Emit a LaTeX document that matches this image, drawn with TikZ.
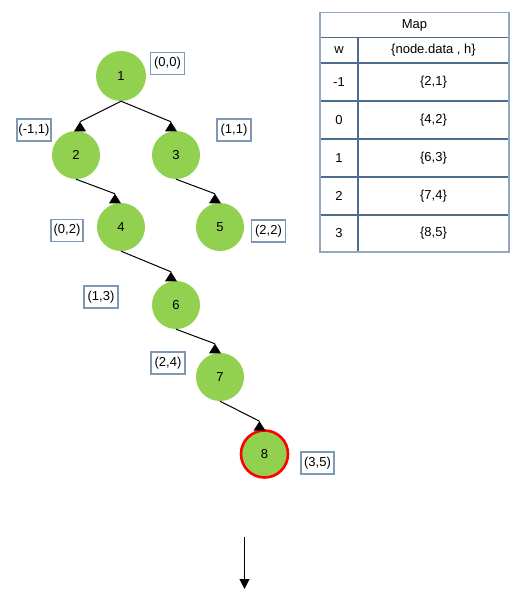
\documentclass[tikz,border=0pt]{standalone}
\usepackage{fontspec}
\setmainfont{Liberation Sans}
\usetikzlibrary{calc,arrows.meta}
\definecolor{leaf}{HTML}{92D050}
\definecolor{boxline}{HTML}{7F98B5}
\definecolor{tabout}{HTML}{94A8C2}
\definecolor{tabin}{HTML}{4E6C8C}
\newcommand\uptri[1]{\fill (#1) -- ++(6,9.5) -- ++(-12,0) -- cycle;}
\begin{document}
\begin{tikzpicture}[x=1pt,y=-1pt,
  tnode/.style={circle,fill=leaf,minimum size=48pt,inner sep=0pt,font=\fontsize{13}{15}\selectfont},
  lbl/.style={draw=boxline,line width=1.3pt,fill=white,minimum width=34pt,minimum height=22pt,inner sep=1pt,font=\fontsize{13}{15}\selectfont},
  edge/.style={draw=black,line width=1pt},
  cell/.style={font=\fontsize{13}{15}\selectfont,inner sep=0pt}]
\useasboundingbox (0,0) rectangle (528,610);
% tree nodes
\node[tnode,minimum size=50pt] (n1) at (121,76) {1};
\node[tnode] (n2) at (76,155) {2};
\node[tnode] (n3) at (176,155) {3};
\node[tnode] (n4) at (121,227) {4};
\node[tnode] (n5) at (220,227) {5};
\node[tnode] (n6) at (176,305) {6};
\node[tnode] (n7) at (220,377) {7};
\node[tnode,draw=red,line width=2.6pt,minimum size=47pt] (n8) at (264.5,454) {8};
% labels
\node[lbl] (l1) at (167.5,63.5) {(0,0)};
\node[lbl] (l2) at (34,130) {(-1,1)};
\node[lbl] (l3) at (234,130) {(1,1)};
\node[lbl,minimum width=32pt] (l4) at (67,230.5) {(0,2)};
\node[lbl] (l5) at (268.5,231) {(2,2)};
\node[lbl] (l6) at (101,297) {(1,3)};
\node[lbl] (l7) at (168,363) {(2,4)};
\node[lbl,minimum width=33pt] (l8) at (317.5,463) {(3,5)};
% edges
\coordinate (t2) at ($(n2.north)+(4,-9)$);
\coordinate (t3) at ($(n3.north)+(-5,-9)$);
\coordinate (t4) at ($(n4.north)+(-6,-9)$);
\coordinate (t5) at ($(n5.north)+(-5,-9)$);
\coordinate (t6) at ($(n6.north)+(-5,-9)$);
\coordinate (t7) at ($(n7.north)+(-5,-9)$);
\coordinate (t8) at ($(n8.north)+(-5,-8)$);
\draw[edge] (n1.south) -- (t2); \uptri{t2}
\draw[edge] (n1.south) -- (t3); \uptri{t3}
\draw[edge] (n2.south) -- (t4); \uptri{t4}
\draw[edge] (n3.south) -- (t5); \uptri{t5}
\draw[edge] (n4.south) -- (t6); \uptri{t6}
\draw[edge] (n6.south) -- (t7); \uptri{t7}
\draw[edge] (n7.south) -- (t8); \uptri{t8}
% bottom arrow
\coordinate (a0) at (244.5,537);
\coordinate (a1) at (244.5,589);
\draw[line width=1pt,-{Triangle[length=10pt,width=10pt]}] (a0) -- (a1);
% table
\draw[tabin,line width=1.5pt] (320,37.5) -- (509,37.5);
\foreach \yy in {63,101,139,177,215} \draw[tabin,line width=1.5pt] (320,\yy) -- (509,\yy);
\draw[tabin,line width=1.5pt] (358,37.5) -- (358,252);
\draw[tabout,line width=1.3pt] (320,12.5) rectangle (509,252);
\node[cell] (tt) at (414.5,25) {Map};
\node[cell] (h1) at (339,50) {w};
\node[cell] (h2) at (433.5,50) {\{node.data , h\}};
\node[cell] (k1) at (339,82) {-1};
\node[cell] (v1) at (433.5,82) {\{2,1\}};
\node[cell] (k2) at (339,120) {0};
\node[cell] (v2) at (433.5,120) {\{4,2\}};
\node[cell] (k3) at (339,158) {1};
\node[cell] (v3) at (433.5,158) {\{6,3\}};
\node[cell] (k4) at (339,196) {2};
\node[cell] (v4) at (433.5,196) {\{7,4\}};
\node[cell] (k5) at (339,233.5) {3};
\node[cell] (v5) at (433.5,233.5) {\{8,5\}};
\end{tikzpicture}
\end{document}
